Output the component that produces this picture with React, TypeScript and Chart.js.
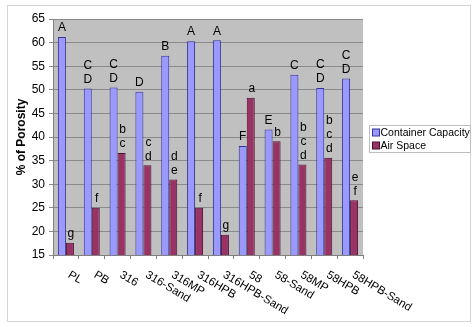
import React, { useEffect, useRef } from "react";
import { Chart, registerables } from "chart.js";

Chart.register(...registerables);

const categories = ["PL", "PB", "316", "316-Sand", "316MP", "316HPB", "316HPB-Sand", "58", "58-Sand", "58MP", "58HPB", "58HPB-Sand"];
const containerCapacity = [61.2, 50.3, 50.5, 49.6, 57.2, 60.3, 60.5, 38.1, 41.6, 53.2, 50.4, 52.4];
const airSpace = [17.6, 25.0, 36.6, 34.0, 31.0, 25.0, 19.3, 48.3, 39.1, 34.2, 35.6, 26.6];
const ccLetters = ["A", "C\nD", "C\nD", "D", "B", "A", "A", "F", "E", "C", "C\nD", "C\nD"];
const asLetters = ["g", "f", "b\nc", "c\nd", "d\ne", "f", "g", "a", "b", "b\nc\nd", "b\nc\nd", "e\nf"];
const seriesNames = ["Container Capacity", "Air Space"];
const yMin = 15;
const yMax = 65;
const yStep = 5;

const FONT = "Liberation Sans, Arial, sans-serif";
const CC_FILL = "#9999FF";
const CC_BORDER = "#333399";
const AS_FILL = "#993366";
const AS_BORDER = "#4a1030";

const decorPlugin = {
  id: "decor",
  beforeDraw(chart: any) {
    const { ctx, chartArea: a, width, height } = chart;
    ctx.save();
    ctx.fillStyle = "#ffffff";
    ctx.fillRect(0, 0, width, height);
    ctx.strokeStyle = "#d4d4d4";
    ctx.lineWidth = 1;
    ctx.strokeRect(7.5, 5.5, 463, 316);
    ctx.fillStyle = "#C0C0C0";
    ctx.fillRect(a.left, a.top, a.right - a.left, a.bottom - a.top);
    ctx.restore();
  },
  afterDraw(chart: any) {
    const { ctx, chartArea: a } = chart;
    const x = chart.scales.x;
    ctx.save();
    // letters above bars
    ctx.fillStyle = "#000";
    ctx.font = `12px ${FONT}`;
    ctx.textAlign = "center";
    ctx.textBaseline = "bottom";
    const lh = 14;
    chart.data.datasets.forEach((ds: any, di: number) => {
      const meta = chart.getDatasetMeta(di);
      const letters = di === 0 ? ccLetters : asLetters;
      meta.data.forEach((bar: any, i: number) => {
        const lines = letters[i].split("\n");
        const n = lines.length;
        lines.forEach((t: string, k: number) => {
          ctx.fillText(t, bar.x + (di === 1 ? 1 : 0), bar.y - 3 - (n - 1 - k) * lh);
        });
      });
    });
    // rotated x labels
    ctx.font = `11.5px ${FONT}`;
    ctx.textAlign = "left";
    ctx.textBaseline = "top";
    categories.forEach((c, i) => {
      const cx = x.getPixelForValue(i);
      ctx.save();
      ctx.translate(cx + 6, a.bottom + 14);
      ctx.rotate((31 * Math.PI) / 180);
      ctx.fillText(c, 0, 0);
      ctx.restore();
    });
    // y title
    ctx.save();
    ctx.font = `bold 12px ${FONT}`;
    ctx.textAlign = "center";
    ctx.textBaseline = "middle";
    ctx.translate(22, (a.top + a.bottom) / 2);
    ctx.rotate(-Math.PI / 2);
    ctx.fillText("% of Porosity", 0, 0);
    ctx.restore();
    // legend
    const lx = 369.5, ly = 125.5, lw = 101, lhh = 27;
    ctx.fillStyle = "#fff";
    ctx.fillRect(lx, ly, lw, lhh);
    ctx.strokeStyle = "#bdbdbd";
    ctx.lineWidth = 1;
    ctx.strokeRect(lx, ly, lw, lhh);
    const fills = [CC_FILL, AS_FILL];
    const borders = [CC_BORDER, AS_BORDER];
    ctx.font = `10.5px ${FONT}`;
    ctx.textBaseline = "middle";
    ctx.textAlign = "left";
    seriesNames.forEach((s, i) => {
      const yy = ly + 7 + i * 13;
      ctx.fillStyle = fills[i];
      ctx.fillRect(lx + 3, yy - 3.5, 7, 7);
      ctx.strokeStyle = borders[i];
      ctx.strokeRect(lx + 3, yy - 3.5, 7, 7);
      ctx.fillStyle = "#000";
      ctx.fillText(s, lx + 11, yy + 0.5);
    });
    ctx.restore();
  },
};

export default function App() {
  const ref = useRef<HTMLCanvasElement | null>(null);
  useEffect(() => {
    if (!ref.current) return;
    const chart = new Chart(ref.current, {
      type: "bar",
      data: {
        labels: categories,
        datasets: [
          {
            label: seriesNames[0],
            data: containerCapacity,
            backgroundColor: CC_FILL,
            borderColor: CC_BORDER,
            borderWidth: 1,
            borderSkipped: "bottom",
          },
          {
            label: seriesNames[1],
            data: airSpace,
            backgroundColor: AS_FILL,
            borderColor: AS_BORDER,
            borderWidth: 1,
            borderSkipped: "bottom",
          },
        ],
      },
      options: {
        responsive: false,
        animation: false,
        devicePixelRatio: 1,
        layout: { padding: { left: 0, top: 19, right: 111, bottom: 68 } },
        datasets: { bar: { categoryPercentage: 0.62, barPercentage: 1 } },
        plugins: { legend: { display: false }, tooltip: { enabled: false }, title: { display: false } },
        scales: {
          x: {
            ticks: { display: false },
            grid: { display: true, drawOnChartArea: false, offset: true, tickLength: 4, color: "#808080" },
            border: { color: "#808080" },
            afterFit: (s: any) => { s.height = 4; },
          },
          y: {
            min: yMin,
            max: yMax,
            ticks: { stepSize: yStep, color: "#000", font: { family: FONT, size: 12 }, padding: 4 },
            grid: { color: "#8a8a8a", tickLength: 4 },
            border: { color: "#808080" },
            afterFit: (s: any) => { s.width = 53; },
          },
        },
      },
      plugins: [decorPlugin],
    });
    return () => chart.destroy();
  }, []);
  return (
    <div style={{ position: "fixed", left: 0, top: 0, width: 474, height: 327 }}>
      <canvas ref={ref} width={474} height={327} style={{ width: 474, height: 327, display: "block" }} />
    </div>
  );
}
